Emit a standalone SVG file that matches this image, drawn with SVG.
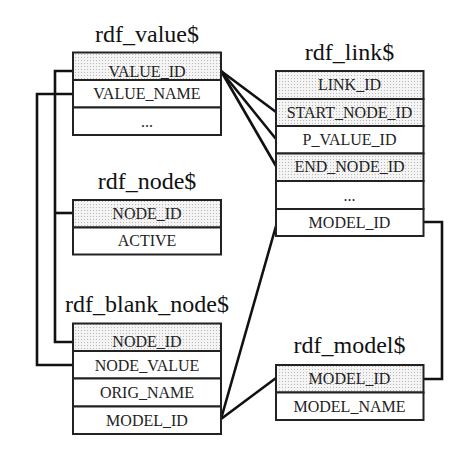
<svg xmlns="http://www.w3.org/2000/svg" width="474" height="474" viewBox="0 0 474 474">
<defs>
<pattern id="dots" width="3" height="3" patternUnits="userSpaceOnUse">
<rect width="3" height="3" fill="#f4f4f4"/>
<rect x="0" y="0" width="1" height="1" fill="#b8b8b8"/>
</pattern>
</defs>
<style>
.title{font-family:"Liberation Serif","Times New Roman",serif;font-size:24px;fill:#111;text-anchor:middle}
.cell{font-family:"Liberation Serif","Times New Roman",serif;font-size:16px;fill:#222;text-anchor:middle}
.key{fill:url(#dots);stroke:#222;stroke-width:2}
.plain{fill:#fff;stroke:#222;stroke-width:2}
.conn{fill:none;stroke:#111;stroke-width:2.6;stroke-linejoin:miter}
</style>
<rect width="474" height="474" fill="#fff"/>
<g id="connectors">
<polyline class="conn" points="73,71 55,71 55,342 73,342"/>
<line class="conn" x1="55" y1="213" x2="73" y2="213"/>
<polyline class="conn" points="73,94 37,94 37,365 73,365"/>
<line class="conn" x1="221" y1="71" x2="276" y2="112"/>
<line class="conn" x1="221" y1="71" x2="276" y2="139"/>
<line class="conn" x1="221" y1="71" x2="276" y2="166"/>
<polyline class="conn" points="423,222 442,222 442,379 423,379"/>
<line class="conn" x1="221" y1="419" x2="276" y2="226"/>
<line class="conn" x1="221" y1="419" x2="276" y2="378"/>
</g>
<g id="rdf_value">
<text class="title" x="147" y="42">rdf_value$</text>
<rect class="key" x="73" y="52.5" width="148" height="27.5"/>
<rect class="plain" x="73" y="80" width="148" height="27.5"/>
<rect class="plain" x="73" y="107.5" width="148" height="27.5"/>
<text class="cell" x="147" y="77">VALUE_ID</text>
<text class="cell" x="147" y="99">VALUE_NAME</text>
<text class="cell" x="147" y="127">...</text>
</g>
<g id="rdf_node">
<text class="title" x="147" y="189">rdf_node$</text>
<rect class="key" x="73" y="200" width="148" height="27.5"/>
<rect class="plain" x="73" y="227.5" width="148" height="27"/>
<text class="cell" x="147" y="219">NODE_ID</text>
<text class="cell" x="147" y="246">ACTIVE</text>
</g>
<g id="rdf_blank_node">
<text class="title" x="147" y="312">rdf_blank_node$</text>
<rect class="key" x="73" y="323.5" width="148" height="27.5"/>
<rect class="plain" x="73" y="351" width="148" height="27.5"/>
<rect class="plain" x="73" y="378.5" width="148" height="28"/>
<rect class="plain" x="73" y="406.5" width="148" height="27.5"/>
<text class="cell" x="147" y="347">NODE_ID</text>
<text class="cell" x="147" y="371">NODE_VALUE</text>
<text class="cell" x="147" y="398">ORIG_NAME</text>
<text class="cell" x="147" y="426">MODEL_ID</text>
</g>
<g id="rdf_link">
<text class="title" x="349.5" y="60">rdf_link$</text>
<rect class="key" x="276" y="71" width="147.5" height="28"/>
<rect class="key" x="276" y="99" width="147.5" height="27"/>
<rect class="plain" x="276" y="126" width="147.5" height="27.5"/>
<rect class="key" x="276" y="153.5" width="147.5" height="27.5"/>
<rect class="plain" x="276" y="181" width="147.5" height="28"/>
<rect class="plain" x="276" y="209" width="147.5" height="27"/>
<text class="cell" x="349.5" y="90">LINK_ID</text>
<text class="cell" x="349.5" y="118">START_NODE_ID</text>
<text class="cell" x="349.5" y="145">P_VALUE_ID</text>
<text class="cell" x="349.5" y="172">END_NODE_ID</text>
<text class="cell" x="349.5" y="201">...</text>
<text class="cell" x="349.5" y="228">MODEL_ID</text>
</g>
<g id="rdf_model">
<text class="title" x="349.5" y="353">rdf_model$</text>
<rect class="key" x="276" y="365" width="147.5" height="27.5"/>
<rect class="plain" x="276" y="392.5" width="147.5" height="27.5"/>
<text class="cell" x="349.5" y="384">MODEL_ID</text>
<text class="cell" x="349.5" y="412">MODEL_NAME</text>
</g>
</svg>
